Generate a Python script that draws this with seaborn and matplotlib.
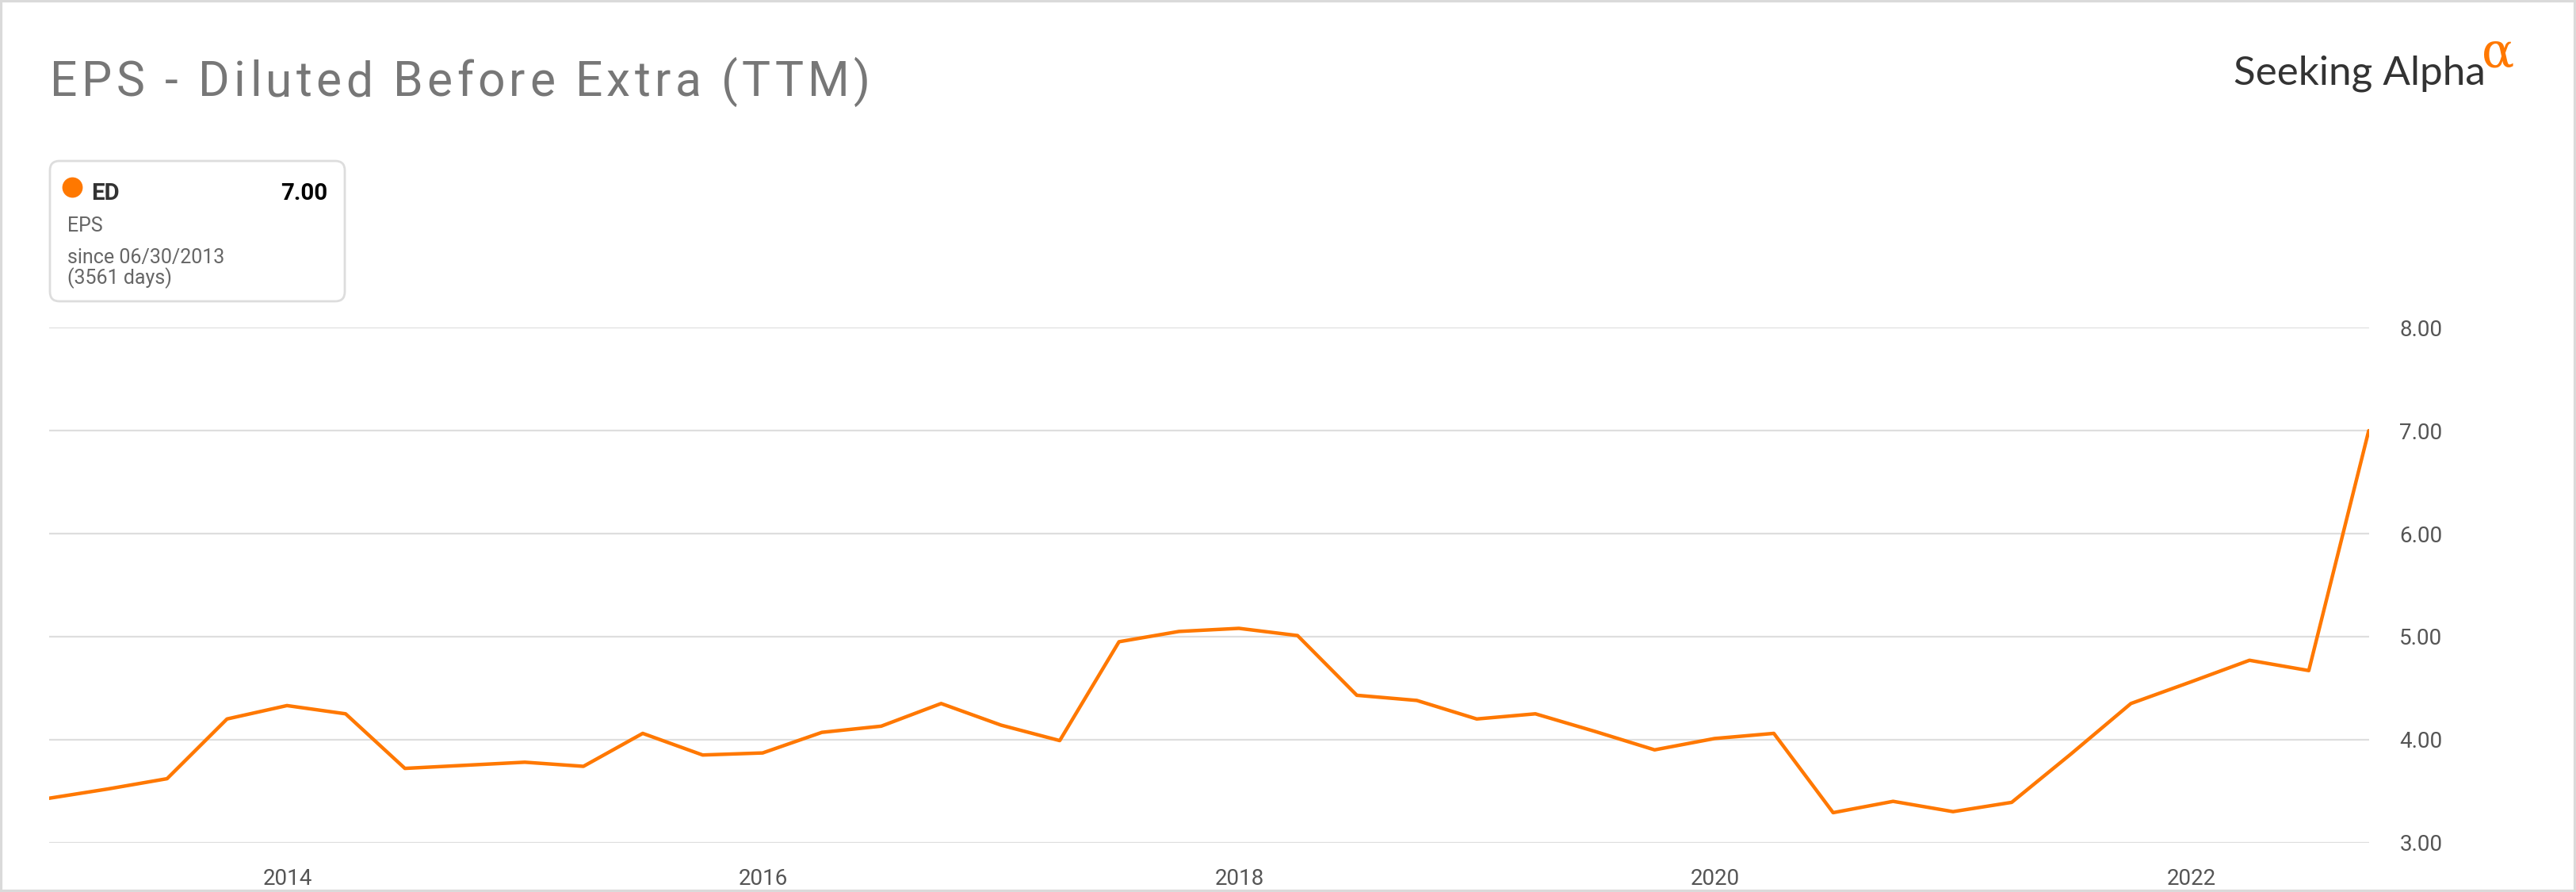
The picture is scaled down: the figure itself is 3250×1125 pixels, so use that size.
"""EPS - Diluted Before Extra (TTM) line chart, Seeking Alpha style."""

import matplotlib
matplotlib.use("Agg")

import matplotlib.dates as mdates
import matplotlib.pyplot as plt
import pandas as pd
import seaborn as sns
from matplotlib.patches import Circle, FancyBboxPatch, Rectangle
from matplotlib.ticker import FormatStrFormatter

# quarterly TTM EPS, 2012Q4 .. 2022Q3
quarter_ends = pd.period_range("2012Q4", "2022Q3", freq="Q").to_timestamp(how="end").normalize()
eps = [
    3.43, 3.52, 3.62, 4.20, 4.33, 4.25, 3.72, 3.75, 3.78, 3.74,
    4.06, 3.85, 3.87, 4.07, 4.13, 4.35, 4.14, 3.99, 4.95, 5.05,
    5.08, 5.01, 4.43, 4.38, 4.20, 4.25, 4.08, 3.90, 4.01, 4.06,
    3.29, 3.40, 3.30, 3.39, 3.86, 4.35, 4.56, 4.77, 4.67, 7.00,
]
y_ticks = [3, 4, 5, 6, 7, 8]

title = "EPS - Diluted Before Extra (TTM)"
ticker = "ED"
last_value = "7.00"
metric = "EPS"
since_text = "since 06/30/2013"
days_text = "(3561 days)"

ORANGE = "#ff7800"
GRID = "#dedede"

df = pd.DataFrame({"date": quarter_ends, "eps": eps})

sns.set_style("white")
plt.rcParams["font.family"] = ["Roboto", "DejaVu Sans"]

W, H, DPI = 3250, 1125, 200
fig = plt.figure(figsize=(W / DPI, H / DPI), dpi=DPI)
renderer = fig.canvas.get_renderer()


def px(x):
    return x / DPI


def py(y):
    return (H - y) / DPI


# plot area in pixel terms of the reference
left, right, top, bottom = 62, 2988.5, 413.3, 1062.6
ax = fig.add_axes([left / W, 1 - bottom / H, (right - left) / W, (bottom - top) / H])
sns.lineplot(data=df, x="date", y="eps", ax=ax, color=ORANGE, linewidth=1.6, zorder=3)

ax.set_xlim(quarter_ends[0], quarter_ends[-1])
ax.set_ylim(y_ticks[0], y_ticks[-1])
ax.set_yticks(y_ticks)
ax.yaxis.set_major_formatter(FormatStrFormatter("%.2f"))
ax.yaxis.tick_right()
ax.xaxis.set_major_locator(mdates.YearLocator(2))
ax.xaxis.set_major_formatter(mdates.DateFormatter("%Y"))
ax.set_xlabel("")
ax.set_ylabel("")
ax.grid(axis="y", color=GRID, linewidth=0.8)
ax.set_axisbelow(True)
for s in ax.spines.values():
    s.set_visible(False)
ax.tick_params(axis="y", length=0, pad=14, labelsize=10, labelcolor="#555555")
ax.tick_params(axis="x", direction="out", length=8.6, width=0.7, color=GRID,
               pad=3, labelsize=10, labelcolor="#555555")


# title, drawn char by char to get the wide letter spacing
def text_width(s, **kw):
    t = fig.text(0, 0, s, **kw)
    w = t.get_window_extent(renderer).width
    t.remove()
    return w


title_kw = dict(fontsize=21.8, color="#777777")
track = 5.3
w_x = text_width("x", **title_kw)
for i, ch in enumerate(title):
    if ch == " ":
        continue
    offset = text_width(title[:i] + "x", **title_kw) - w_x if i else 0
    fig.text(px(63 + offset + i * track), py(121), ch, transform=fig.dpi_scale_trans,
             va="baseline", ha="left", **title_kw)

# legend card
card = FancyBboxPatch((px(63), py(380)), px(435 - 63), (380 - 203) / DPI,
                      boxstyle="round,pad=0,rounding_size=0.06",
                      transform=fig.dpi_scale_trans, facecolor="white",
                      edgecolor="#dddddd", linewidth=1.0)
fig.patches.append(card)
fig.patches.append(Circle((px(91.5), py(236.5)), 11.5 / DPI, transform=fig.dpi_scale_trans,
                          color=ORANGE))
fig.text(px(115), py(251.7), ticker, transform=fig.dpi_scale_trans, fontsize=10.6,
         fontweight="bold", color="#333333", va="baseline")
fig.text(px(413), py(251.7), last_value, transform=fig.dpi_scale_trans, fontsize=10.6,
         fontweight="bold", color="black", va="baseline", ha="right")
fig.text(px(85), py(291.7), metric, transform=fig.dpi_scale_trans, fontsize=9,
         color="#666666", va="baseline")
fig.text(px(85), py(331.7), since_text, transform=fig.dpi_scale_trans, fontsize=9,
         color="#666666", va="baseline")
fig.text(px(85), py(358.5), days_text, transform=fig.dpi_scale_trans, fontsize=9,
         color="#666666", va="baseline")

# logo
fig.text(px(2818), py(107), "Seeking Alpha", transform=fig.dpi_scale_trans, fontsize=18.4,
         family=["Lato", "DejaVu Sans"], color="#333333", va="baseline")
fig.text(px(3131), py(85), "α", transform=fig.dpi_scale_trans, fontsize=22,
         family=["DejaVu Serif"], color=ORANGE, va="baseline")

# outer frame
fig.patches.append(Rectangle((0, 0), W / DPI, H / DPI, fill=False, edgecolor="#dadada",
                             linewidth=2.2, transform=fig.dpi_scale_trans))

fig.savefig("out.png", dpi=DPI)
